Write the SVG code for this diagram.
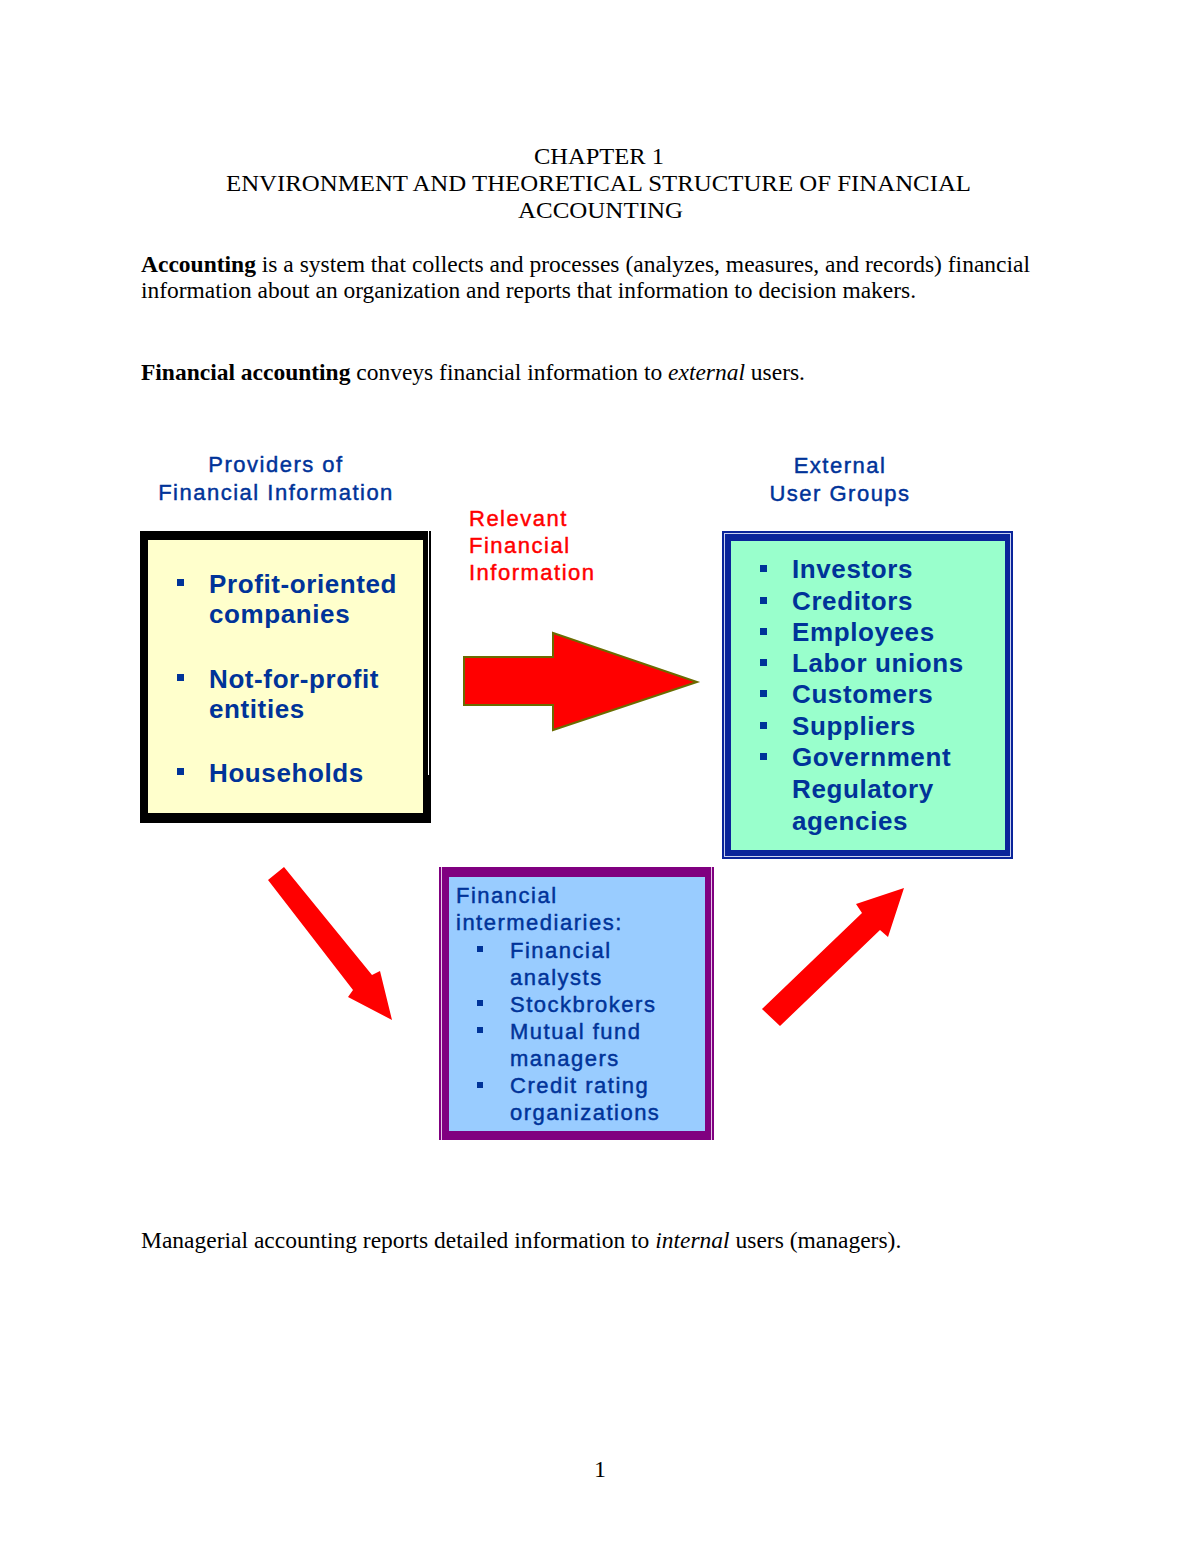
<svg xmlns="http://www.w3.org/2000/svg" width="1200" height="1553" viewBox="0 0 1200 1553">
<style>
.serif{font-family:"Liberation Serif","Times New Roman",serif;font-size:24px;fill:#000}
.hdr{font-family:"Liberation Sans",Arial,sans-serif;font-size:22px;fill:#003399;stroke:#003399;stroke-width:0.45px;letter-spacing:1.5px}
.red{font-family:"Liberation Sans",Arial,sans-serif;font-size:22px;fill:#FF0000;stroke:#FF0000;stroke-width:0.45px;letter-spacing:1.5px}
.big{font-family:"Liberation Sans",Arial,sans-serif;font-size:26px;font-weight:bold;fill:#003399;letter-spacing:0.6px}
.mid{font-family:"Liberation Sans",Arial,sans-serif;font-size:22px;fill:#003399;stroke:#003399;stroke-width:0.45px;letter-spacing:1.5px}
.bul{fill:#003399}
.arrow{fill:#FF0000}
</style>
<rect width="1200" height="1553" fill="#fff"/>

<g id="title">
<text class="serif" x="599" y="164" text-anchor="middle" textLength="130" lengthAdjust="spacingAndGlyphs">CHAPTER 1</text>
<text class="serif" x="598.5" y="191" text-anchor="middle" textLength="745" lengthAdjust="spacingAndGlyphs">ENVIRONMENT AND THEORETICAL STRUCTURE OF FINANCIAL</text>
<text class="serif" x="600.5" y="218" text-anchor="middle" textLength="165" lengthAdjust="spacingAndGlyphs">ACCOUNTING</text>
</g>

<g id="intro">
<text class="serif" x="141" y="272" textLength="889" lengthAdjust="spacingAndGlyphs"><tspan font-weight="bold">Accounting</tspan> is a system that collects and processes (analyzes, measures, and records) financial</text>
<text class="serif" x="141" y="298" textLength="775" lengthAdjust="spacingAndGlyphs">information about an organization and reports that information to decision makers.</text>
<text class="serif" x="141" y="380" textLength="664" lengthAdjust="spacingAndGlyphs"><tspan font-weight="bold">Financial accounting</tspan> conveys financial information to <tspan font-style="italic">external</tspan> users.</text>
</g>

<g id="providers-label">
<text class="hdr" x="276" y="472" text-anchor="middle">Providers of</text>
<text class="hdr" x="276" y="500" text-anchor="middle">Financial Information</text>
</g>

<g id="users-label">
<text class="hdr" x="840" y="473" text-anchor="middle">External</text>
<text class="hdr" x="840" y="501" text-anchor="middle">User Groups</text>
</g>

<g id="relevant-label">
<text class="red" x="469" y="526">Relevant</text>
<text class="red" x="469" y="553">Financial</text>
<text class="red" x="469" y="580">Information</text>
</g>

<g id="providers">
<rect x="140" y="531" width="291" height="292" fill="#000"/>
<line x1="428.5" y1="531" x2="428.5" y2="775" stroke="#fff" stroke-width="1"/>
<rect x="148" y="540" width="275" height="273" fill="#FFFFCC"/>
<rect class="bul" x="177" y="579" width="7" height="7"/>
<text class="big" x="209" y="593">Profit-oriented</text>
<text class="big" x="209" y="623">companies</text>
<rect class="bul" x="177" y="674" width="7" height="7"/>
<text class="big" x="209" y="688">Not-for-profit</text>
<text class="big" x="209" y="718">entities</text>
<rect class="bul" x="177" y="768" width="7" height="7"/>
<text class="big" x="209" y="782">Households</text>
</g>

<g id="users">
<rect x="722" y="531" width="291" height="328" fill="#0A249A"/>
<rect x="724.5" y="533.5" width="286" height="323" fill="none" stroke="#C8D0F0" stroke-width="1"/>
<rect x="731" y="541" width="274" height="309" fill="#99FFCC"/>
<g class="bul">
<rect x="760" y="565" width="7" height="7"/>
<rect x="760" y="597" width="7" height="7"/>
<rect x="760" y="628" width="7" height="7"/>
<rect x="760" y="659" width="7" height="7"/>
<rect x="760" y="690" width="7" height="7"/>
<rect x="760" y="722" width="7" height="7"/>
<rect x="760" y="753" width="7" height="7"/>
</g>
<text class="big" x="792" y="578">Investors</text>
<text class="big" x="792" y="610">Creditors</text>
<text class="big" x="792" y="641">Employees</text>
<text class="big" x="792" y="672">Labor unions</text>
<text class="big" x="792" y="703">Customers</text>
<text class="big" x="792" y="735">Suppliers</text>
<text class="big" x="792" y="766">Government</text>
<text class="big" x="792" y="798">Regulatory</text>
<text class="big" x="792" y="830">agencies</text>
</g>

<g id="intermediaries">
<rect x="439" y="867" width="275" height="273" fill="#800080"/>
<line x1="441.5" y1="867" x2="441.5" y2="1140" stroke="#E8C8E8" stroke-width="1"/>
<line x1="711.5" y1="867" x2="711.5" y2="1140" stroke="#E8C8E8" stroke-width="1"/>
<rect x="449" y="877" width="256" height="254" fill="#99CCFF"/>
<text class="mid" x="456" y="903">Financial</text>
<text class="mid" x="456" y="930">intermediaries:</text>
<g class="bul">
<rect x="477" y="946" width="6" height="6"/>
<rect x="477" y="1000" width="6" height="6"/>
<rect x="477" y="1027" width="6" height="6"/>
<rect x="477" y="1082" width="6" height="6"/>
</g>
<text class="mid" x="510" y="958">Financial</text>
<text class="mid" x="510" y="985">analysts</text>
<text class="mid" x="510" y="1012">Stockbrokers</text>
<text class="mid" x="510" y="1039">Mutual fund</text>
<text class="mid" x="510" y="1066">managers</text>
<text class="mid" x="510" y="1093">Credit rating</text>
<text class="mid" x="510" y="1120">organizations</text>
</g>

<g id="connectors">
<polygon class="arrow" points="464,657 553,657 553,633 697,682 553,730 553,705 464,705" stroke="#6B6B00" stroke-width="2" stroke-linejoin="miter"/>
<polygon class="arrow" points="268,880 284,867 372,975 380,971 392,1020 348,997 353,990"/>
<polygon class="arrow" points="762,1009 862,913 856,904 904,888 888,937 880,930 780,1026"/>
</g>

<g id="footer">
<text class="serif" x="141" y="1248" style="font-size:23.5px">Managerial accounting reports detailed information to <tspan font-style="italic">internal</tspan> users (managers).</text>
<text class="serif" x="600" y="1477" text-anchor="middle">1</text>
</g>
</svg>
